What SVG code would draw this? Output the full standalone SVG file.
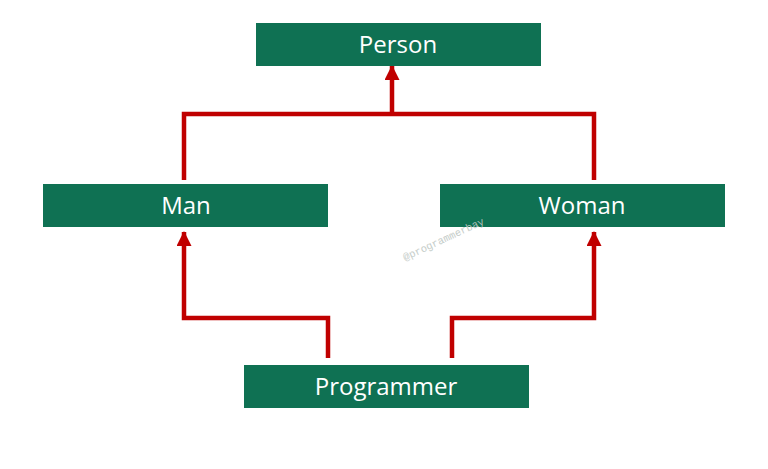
<svg xmlns="http://www.w3.org/2000/svg" width="768" height="469" viewBox="0 0 768 469">
<style>
.box{fill:#0f7153}
.lbl{font-family:"Open Sans","Liberation Sans",sans-serif;font-size:24px;fill:#fff;text-anchor:middle}
.ln{fill:none;stroke:#c00000;stroke-width:4.5;marker-end:url(#ah)}
</style>
<defs>
<marker id="ah" markerUnits="userSpaceOnUse" markerWidth="15" markerHeight="16" refX="14" refY="7.5" orient="auto">
<path d="M0,0 L15,7.5 L0,15 Z" fill="#c00000"/>
</marker>
</defs>
<rect width="768" height="469" fill="#fff"/>
<g id="connectors">
<path class="ln" d="M184,180 V114 H594 V180 M392,114 V66"/>
<path class="ln" d="M328,358 V318 H184 V232"/>
<path class="ln" d="M452,358 V318 H594 V232"/>
</g>
<g id="person"><rect class="box" x="256" y="23" width="285" height="43"/><text class="lbl" x="398" y="53">Person</text></g>
<g id="man"><rect class="box" x="43" y="184" width="285" height="43"/><text class="lbl" x="186" y="214">Man</text></g>
<g id="woman"><rect class="box" x="440" y="184" width="285" height="43"/><text class="lbl" x="582" y="214">Woman</text></g>
<g id="programmer"><rect class="box" x="244" y="365" width="285" height="43"/><text class="lbl" x="386" y="395">Programmer</text></g>
<text x="405" y="261" transform="rotate(-25 405 261)" font-family="Liberation Mono,monospace" font-size="10.5" fill="#c0c8c4" opacity="0.9">@programmerbay</text>
</svg>
